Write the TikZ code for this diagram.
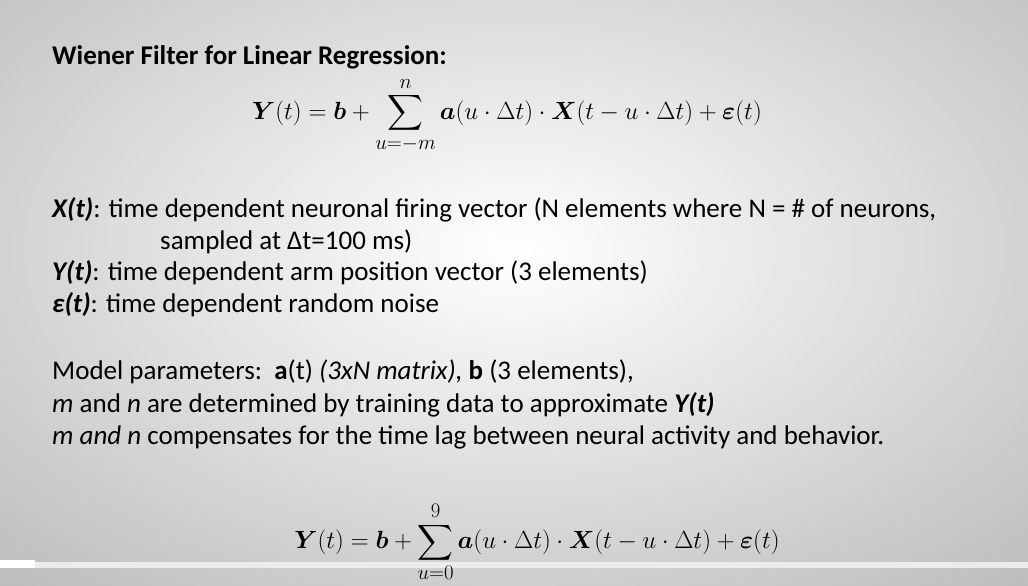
\documentclass[tikz,border=0pt]{standalone}
\usepackage{amsmath,bm}
\usepackage{fontspec}
\setmainfont{Carlito}
\begin{document}
\begin{tikzpicture}[x=1pt,y=-1pt,
  txt/.style={anchor=west,inner sep=0pt,font=\fontsize{27}{32}\selectfont},
  eq/.style={inner sep=0pt,font=\fontsize{28}{32}\selectfont}]
\useasboundingbox (0,0) rectangle (1028,586);
\shade[inner color=white,outer color=gray!52] (-250,-200) rectangle (1278,700);
\fill[white!85!gray] (0,562) rectangle (1028,568);
\fill[white] (0,560) rectangle (35,568);
\node[txt,font=\fontsize{27}{32}\selectfont\bfseries] (title) at (52,57) {Wiener Filter for Linear Regression:};
\node[eq] (eq1) at (507,115) {$\displaystyle \bm{Y}(t)=\bm{b}+\sum_{u=-m}^{n}\bm{a}(u\cdot\Delta t)\cdot\bm{X}(t-u\cdot\Delta t)+\bm{\varepsilon}(t)$};
\node[txt] (l1) at (52,210) {\textbf{\textit{X(t)}}: time dependent neuronal firing vector (N elements where N = \# of neurons,};
\node[txt] (l2) at (160,242) {sampled at Δt=100 ms)};
\node[txt] (l3) at (52,273) {\textbf{\textit{Y(t)}}: time dependent arm position vector (3 elements)};
\node[txt] (l4) at (52,305) {\textbf{\textit{ε(t)}}: time dependent random noise};
\node[txt] (l5) at (52,372) {Model parameters:\ \ \textbf{a}(t) \textit{(3xN matrix),} \textbf{b} (3 elements),};
\node[txt] (l6) at (52,405) {\textit{m} and \textit{n} are determined by training data to approximate \textbf{\textit{Y(t)}}};
\node[txt] (l7) at (52,437) {\textit{m and n} compensates for the time lag between neural activity and behavior.};
\node[eq] (eq2) at (537,542) {$\displaystyle \bm{Y}(t)=\bm{b}+\sum_{u=0}^{9}\bm{a}(u\cdot\Delta t)\cdot\bm{X}(t-u\cdot\Delta t)+\bm{\varepsilon}(t)$};
\end{tikzpicture}
\end{document}
